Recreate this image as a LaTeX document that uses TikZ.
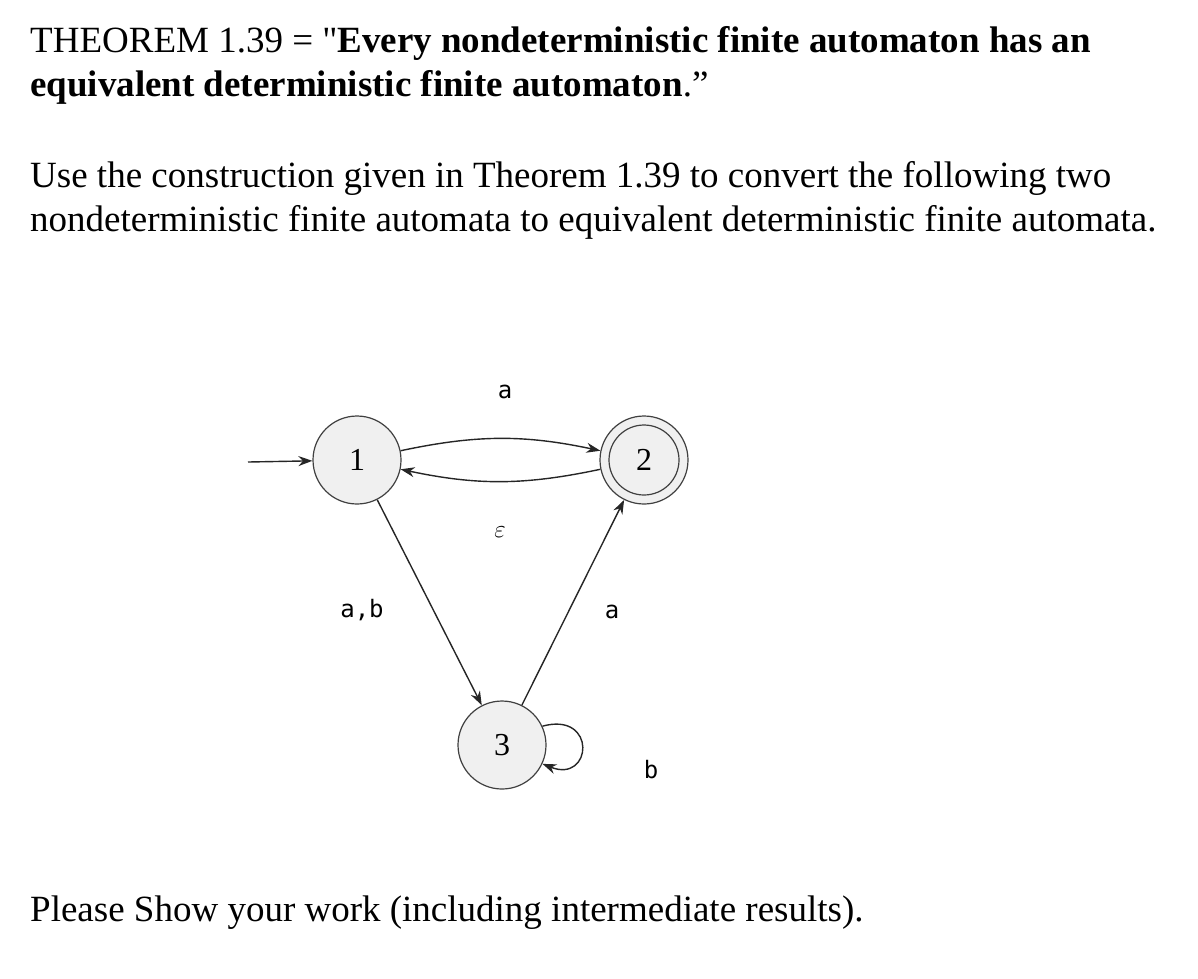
\documentclass[tikz,border=0pt]{standalone}
\usepackage{fontspec}
\setmainfont{Liberation Serif}
\newfontfamily\monof{DejaVu Sans Mono}
\usetikzlibrary{arrows.meta}
\begin{document}
\begin{tikzpicture}[x=1pt,y=-1pt,
  txt/.style={anchor=base west,inner sep=0pt,font=\fontsize{37}{42}\selectfont},
  st/.style={circle,draw=black!75,line width=1.2pt,fill=black!6,minimum size=88pt,inner sep=0pt,font=\fontsize{32}{36}\selectfont},
  lab/.style={inner sep=0pt,font=\monof\fontsize{24}{28}\selectfont},
  ed/.style={draw=black!85,line width=1.4pt,-{Stealth[length=14pt,width=10pt]}}]
\useasboundingbox (0,0) rectangle (1198,978);
\node[txt] (t1) at (30,52) {THEOREM 1.39 = \textquotedbl\textbf{Every nondeterministic finite automaton has an}};
\node[txt] (t2) at (30,96) {\textbf{equivalent deterministic finite automaton}.''};
\node[txt] (t3) at (30,187) {Use the construction given in Theorem 1.39 to convert the following two};
\node[txt] (t4) at (30,231) {nondeterministic finite automata to equivalent deterministic finite automata.};
\node[txt] (t5) at (30,921) {Please Show your work (including intermediate results).};
\node[st] (s1) at (357,460) {1};
\node[st] (s2) at (644,460) {2};
\node[circle,draw=black!75,line width=1.2pt,minimum size=70pt] (s2i) at (644,460) {};
\node[st] (s3) at (502,745) {3};
\coordinate (start) at (248,462);
\draw[ed] (start) -- (s1);
\draw[ed] (s1) to[bend left=12] (s2);
\draw[ed] (s2) to[bend left=12] (s1);
\draw[ed] (s1) -- (s3);
\draw[ed] (s3) -- (s2);
\draw[ed] (s3.25) .. controls +(55,-15) and +(50,20) .. (s3.-25);
\node[lab] (la) at (505,392) {a};
\node[lab] (le) at (500,532) {$\varepsilon$};
\node[lab] (lab) at (362,610) {a,b};
\node[lab] (la2) at (612,612) {a};
\node[lab] (lb) at (651,770) {b};
\end{tikzpicture}
\end{document}
